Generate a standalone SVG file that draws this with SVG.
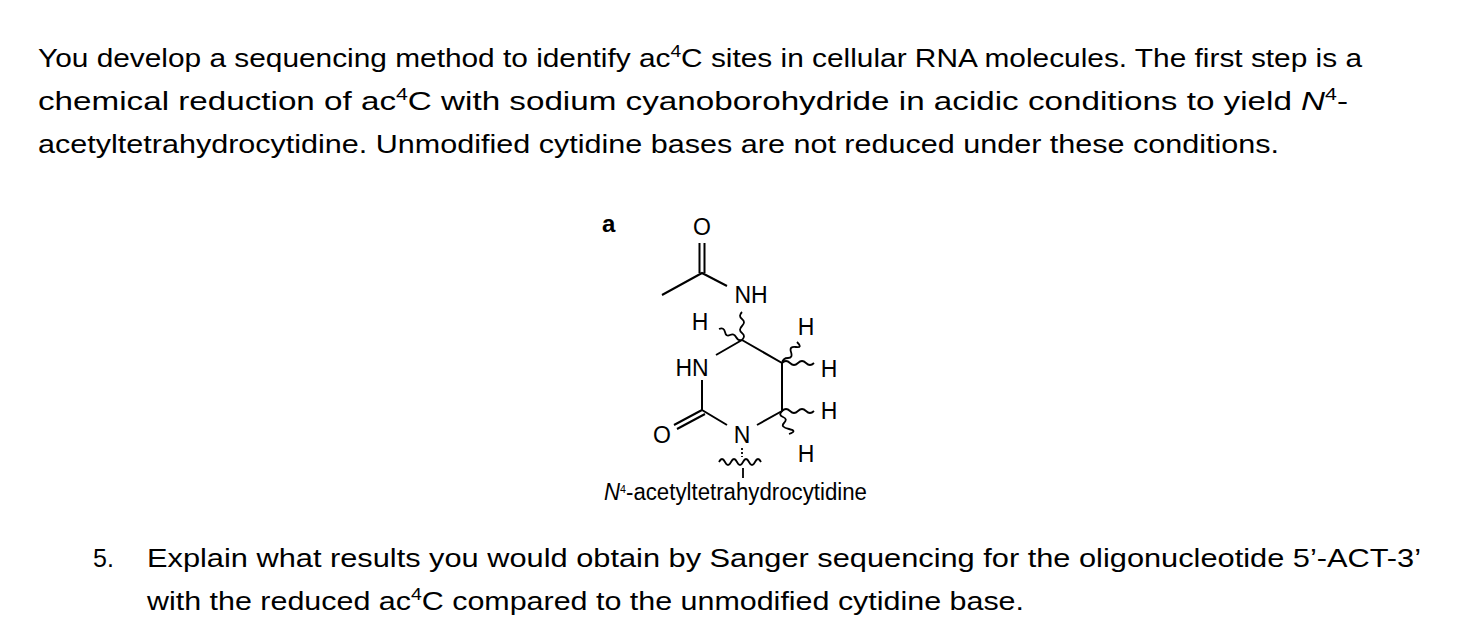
<svg xmlns="http://www.w3.org/2000/svg" width="1460" height="642" viewBox="0 0 1460 642">
<style>
.t{font-family:"Liberation Sans",Arial,sans-serif;font-size:25px;fill:#000}
.c{font-family:"Liberation Sans",Arial,sans-serif;font-size:23px;fill:#000}
.b{stroke:#000;stroke-width:2;fill:none}
.w{stroke:#000;stroke-width:1.8;fill:none}
</style>
<rect width="1460" height="642" fill="#fff"/>
<g id="intro">
<text class="t" x="38" y="67" textLength="1324" lengthAdjust="spacingAndGlyphs">You develop a sequencing method to identify ac<tspan dy="-10" font-size="16">4</tspan><tspan dy="10">C sites in cellular RNA molecules. The first step is a</tspan></text>
<text class="t" x="38" y="110" textLength="1310" lengthAdjust="spacingAndGlyphs">chemical reduction of ac<tspan dy="-10" font-size="16">4</tspan><tspan dy="10">C with sodium cyanoborohydride in acidic conditions to yield </tspan><tspan font-style="italic">N</tspan><tspan dy="-10" font-size="16">4</tspan><tspan dy="10">-</tspan></text>
<text class="t" x="38" y="153" textLength="1241" lengthAdjust="spacingAndGlyphs">acetyltetrahydrocytidine. Unmodified cytidine bases are not reduced under these conditions.</text>
</g>
<g id="structure">
<text x="602" y="232" font-family="Liberation Sans,Arial,sans-serif" font-weight="bold" font-size="24">a</text>
<g class="c" text-anchor="middle">
<text x="702" y="235">O</text>
<text x="751" y="303">NH</text>
<text x="700" y="330">H</text>
<text x="806" y="335">H</text>
<text x="692" y="376">HN</text>
<text x="829" y="377">H</text>
<text x="829" y="419">H</text>
<text x="662" y="443">O</text>
<text x="742" y="443">N</text>
<text x="806" y="462">H</text>
</g>
<path class="b" d="M699.5 273V243M704.5 273V243M662 295L702 273L727 286M742 340L716 355M742 340L782 363V411L757 425M702 380V410L727 425M702 410L674 425M705 414L677 429"/>
<path class="w" d="M742 340q4-4 0-7t0-7t0-7t0-7M742 340q-4 1-6-3t-6-2t-5-3t-6-3M782 363q1-5 6-5t3-6t5-5t1-5M782 363q4-4 8 0t8 0t8 0t8 0M782 411q4-4 8 0t8 0t8 0t8 0M782 411q-4 4 1 6t1 6t5 6t0 5"/>
<path class="w" d="M742 448V457" stroke-dasharray="2 2"/>
<path class="w" d="M719 462q3-6 6 0t6 0t6 0t6 0t6 0t6 0t6 0M743 468V478"/>
<text class="c" x="604" y="500" font-size="17" textLength="263" lengthAdjust="spacingAndGlyphs"><tspan font-style="italic">N</tspan><tspan dy="-7" font-size="11">4</tspan><tspan dy="7">-acetyltetrahydrocytidine</tspan></text>
</g>
<g id="question">
<text class="t" x="93" y="567">5.</text>
<text class="t" x="147" y="567" textLength="1274" lengthAdjust="spacingAndGlyphs">Explain what results you would obtain by Sanger sequencing for the oligonucleotide 5’-ACT-3’</text>
<text class="t" x="147" y="610" textLength="877" lengthAdjust="spacingAndGlyphs">with the reduced ac<tspan dy="-10" font-size="16">4</tspan><tspan dy="10">C compared to the unmodified cytidine base.</tspan></text>
</g>
</svg>
